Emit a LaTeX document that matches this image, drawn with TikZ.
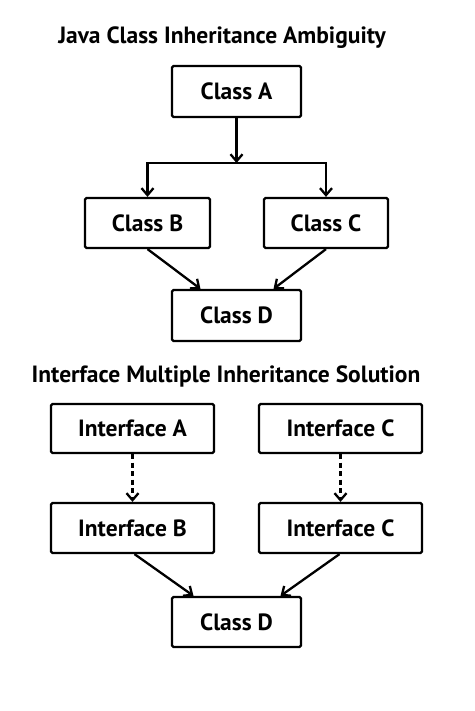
\documentclass[tikz,border=0pt]{standalone}
\usepackage{fontspec}
\setmainfont{PT Sans}
\usetikzlibrary{arrows.meta}
\begin{document}
\begin{tikzpicture}[x=1pt,y=-1pt,
  box/.style={draw,line width=2.2pt,rounded corners=1.5pt,inner sep=0pt,font=\fontsize{23.5}{28}\selectfont\bfseries},
  ttl/.style={font=\fontsize{23.5}{28}\selectfont\bfseries,inner sep=0pt},
  arr/.style={line width=2.3pt,-{Straight Barb[length=7pt,width=12pt,line width=2.3pt]}},
  darr/.style={arr,dash pattern=on 5pt off 3.5pt}]
\useasboundingbox (0,0) rectangle (474,711);
\node[ttl] (t1) at (222,38) {Java Class Inheritance Ambiguity};
\node[box,minimum width=129pt,minimum height=51pt] (A) at (236.5,91.5) {Class A};
\node[box,minimum width=125pt,minimum height=50pt] (B) at (147.5,223) {Class B};
\node[box,minimum width=124pt,minimum height=50pt] (C) at (326,223) {Class C};
\node[box,minimum width=129pt,minimum height=51pt] (D) at (236.5,315.5) {Class D};
\coordinate (J) at (236.5,163);
\draw[arr] (A.south) -- (J);
\draw[arr] (J) -| (B.north);
\draw[arr] (J) -| (C.north);
\draw[arr] ([xshift=0pt]B.south) -- ([xshift=-36pt]D.north);
\draw[arr] ([xshift=0pt]C.south) -- ([xshift=37pt]D.north);

\node[ttl] (t2) at (226,376) {Interface Multiple Inheritance Solution};
\node[box,minimum width=163pt,minimum height=49pt] (IA) at (132.5,428.5) {Interface A};
\node[box,minimum width=163pt,minimum height=49pt] (IC) at (340.5,428.5) {Interface C};
\node[box,minimum width=163pt,minimum height=50pt] (IB) at (132.5,528) {Interface B};
\node[box,minimum width=163pt,minimum height=50pt] (IC2) at (340.5,528) {Interface C};
\node[box,minimum width=129pt,minimum height=50pt] (D2) at (236.5,622) {Class D};
\draw[darr] (IA.south) -- (IB.north);
\draw[darr] (IC.south) -- (IC2.north);
\draw[arr] ([xshift=2pt]IB.south) -- ([xshift=-43pt]D2.north);
\draw[arr] ([xshift=-1pt]IC2.south) -- ([xshift=44pt]D2.north);
\end{tikzpicture}
\end{document}
